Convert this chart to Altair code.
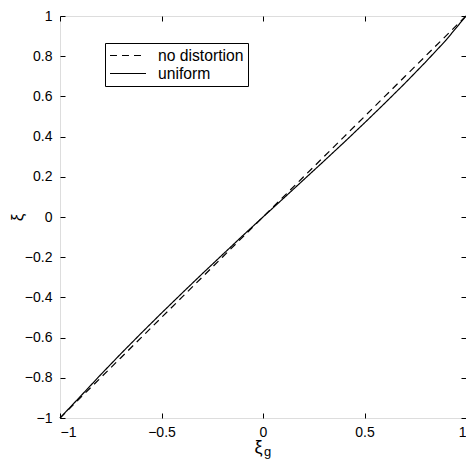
import altair as alt
import pandas as pd

xi_g = [-1.0, -0.9, -0.8, -0.7, -0.6, -0.5, -0.4, -0.3, -0.2, -0.1, 0.0,
        0.1, 0.2, 0.3, 0.4, 0.5, 0.6, 0.7, 0.8, 0.9, 1.0]
no_distortion = [-1.0, -0.9, -0.8, -0.7, -0.6, -0.5, -0.4, -0.3, -0.2, -0.1, 0.0,
                 0.1, 0.2, 0.3, 0.4, 0.5, 0.6, 0.7, 0.8, 0.9, 1.0]
uniform = [-1.0, -0.893, -0.785, -0.680, -0.578, -0.478, -0.380, -0.283, -0.188, -0.093, 0.0,
           0.092, 0.185, 0.278, 0.372, 0.468, 0.566, 0.666, 0.770, 0.878, 1.0]
series_names = ["no distortion", "uniform"]
x_ticks = [-1, -0.5, 0, 0.5, 1]
y_ticks = [-1, -0.8, -0.6, -0.4, -0.2, 0, 0.2, 0.4, 0.6, 0.8, 1]

rows = []
for name, vals in zip(series_names, [no_distortion, uniform]):
    for a, b in zip(xi_g, vals):
        rows.append({"series": name, "xg": a, "xi": b})
df = pd.DataFrame(rows)

FONT = "Liberation Sans"
W, H = 406, 402

xs = alt.Scale(domain=[-1, 1], nice=False, zero=False)
ys = alt.Scale(domain=[-1, 1], nice=False, zero=False)

def tick_axis(orient, offset, values):
    return alt.Axis(orient=orient, offset=offset, values=values, labels=False,
                    domain=False, grid=False, ticks=True, tickSize=5,
                    tickColor="black", tickWidth=1, title=None)

lines = alt.Chart(df).mark_line(color="black", strokeWidth=1.2).encode(
    x=alt.X("xg:Q", scale=xs,
            axis=alt.Axis(orient="bottom", values=x_ticks, format="~g", ticks=False,
                          grid=False, domain=False, labelFont=FONT, labelFontSize=14,
                          labelColor="black", labelPadding=7,
                          title="ξ", titleFont=FONT, titleFontSize=18,
                          titleFontWeight="normal", titleColor="black",
                          titleX=198, titleY=20, titleBaseline="top")),
    y=alt.Y("xi:Q", scale=ys,
            axis=alt.Axis(orient="left", values=y_ticks, format="~g", ticks=False,
                          grid=False, domain=False, labelFont=FONT, labelFontSize=14,
                          labelColor="black", labelPadding=8,
                          title="ξ", titleFont=FONT, titleFontSize=17,
                          titleFontWeight="normal", titleColor="black",
                          titleX=-43, titleY=201, titleAngle=-90,
                          titleAlign="center", titleBaseline="middle")),
    strokeDash=alt.StrokeDash(
        "series:N",
        scale=alt.Scale(domain=series_names, range=[[7, 5], [1, 0]]),
        legend=alt.Legend(orient="none", legendX=45, legendY=27, title=None,
                          strokeColor="black", fillColor="white", padding=4,
                          cornerRadius=0, labelFont=FONT, labelFontSize=15.7,
                          labelColor="black", symbolType="stroke",
                          symbolSize=1300, symbolStrokeWidth=1.2,
                          symbolStrokeColor="black", labelOffset=11,
                          rowPadding=1, clipHeight=17)),
    order="xg:Q",
)

ticks_a = alt.Chart(df).mark_point(opacity=0).encode(
    x=alt.X("xg:Q", scale=xs, axis=tick_axis("top", -H, x_ticks)),
    y=alt.Y("xi:Q", scale=ys, axis=tick_axis("right", -W, y_ticks)),
)
ticks_b = alt.Chart(df).mark_point(opacity=0).encode(
    x=alt.X("xg:Q", scale=xs, axis=tick_axis("bottom", -H, x_ticks)),
    y=alt.Y("xi:Q", scale=ys, axis=tick_axis("left", -W, y_ticks)),
)

sub_g = alt.Chart(pd.DataFrame({"t": ["g"]})).mark_text(
    font=FONT, fontSize=13, align="left", baseline="alphabetic", color="black"
).encode(x=alt.value(204), y=alt.value(440), text="t:N")

chart = alt.layer(lines, ticks_a, ticks_b, sub_g).resolve_axis(
    x="independent", y="independent"
).properties(
    width=W, height=H,
    autosize=alt.AutoSizeParams(type="none"),
    padding={"left": 52, "top": 8, "right": 0, "bottom": 44},
).configure_view(stroke="black", strokeWidth=1.2).configure(background="white")

chart.save("out.html", embed_options={"renderer": "svg", "actions": False})
